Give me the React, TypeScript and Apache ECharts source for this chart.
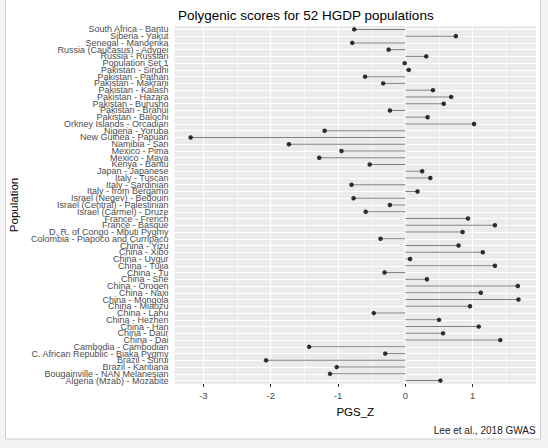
import React, { useEffect, useRef } from 'react';
import * as echarts from 'echarts';

const populations = [
  'South Africa - Bantu',
  'Siberia - Yakut',
  'Senegal - Mandenka',
  'Russia (Caucasus) - Adygei',
  'Russia - Russian',
  'Population Set 1',
  'Pakistan - Sindhi',
  'Pakistan - Pathan',
  'Pakistan - Makrani',
  'Pakistan - Kalash',
  'Pakistan - Hazara',
  'Pakistan - Burusho',
  'Pakistan - Brahui',
  'Pakistan - Balochi',
  'Orkney Islands - Orcadian',
  'Nigeria - Yoruba',
  'New Guinea - Papuan',
  'Namibia - San',
  'Mexico - Pima',
  'Mexico - Maya',
  'Kenya - Bantu',
  'Japan - Japanese',
  'Italy - Tuscan',
  'Italy - Sardinian',
  'Italy - from Bergamo',
  'Israel (Negev) - Bedouin',
  'Israel (Central) - Palestinian',
  'Israel (Carmel) - Druze',
  'France - French',
  'France - Basque',
  'D. R. of Congo - Mbuti Pygmy',
  'Colombia - Piapoco and Curripaco',
  'China - Yizu',
  'China - Xibo',
  'China - Uygur',
  'China - Tujia',
  'China - Tu',
  'China - She',
  'China - Oroqen',
  'China - Naxi',
  'China - Mongola',
  'China - Miaozu',
  'China - Lahu',
  'China - Hezhen',
  'China - Han',
  'China - Daur',
  'China - Dai',
  'Cambodia - Cambodian',
  'C. African Republic - Biaka Pygmy',
  'Brazil - Surui',
  'Brazil - Karitiana',
  'Bougainville - NAN Melanesian',
  'Algeria (Mzab) - Mozabite',
];

const pgsZ = [
  -0.76, 0.75, -0.79, -0.25, 0.31, -0.01, 0.05, -0.6, -0.33, 0.41,
  0.68, 0.57, -0.23, 0.33, 1.02, -1.2, -3.19, -1.73, -0.95, -1.28,
  -0.53, 0.25, 0.37, -0.8, 0.18, -0.77, -0.23, -0.59, 0.93, 1.33,
  0.85, -0.37, 0.79, 1.15, 0.07, 1.33, -0.31, 0.32, 1.67, 1.12,
  1.68, 0.96, -0.47, 0.5, 1.09, 0.56, 1.41, -1.43, -0.3, -2.07,
  -1.02, -1.12, 0.52,
];

const majorBreaks = [-3, -2, -1, 0, 1];
const minorBreaks = [-2.5, -1.5, -0.5, 0.5, 1.5];
const xMin = -3.43;
const xMax = 1.94;

export default function App() {
  const ref = useRef<HTMLDivElement>(null);
  useEffect(() => {
    const chart = echarts.init(ref.current!, null, { renderer: 'svg' });
    const font = '"Liberation Sans", Arial, Helvetica, sans-serif';
    const gridLines: any[] = [
      ...minorBreaks.map((v) => ({ xAxis: v, lineStyle: { color: '#ffffff', width: 0.55, type: 'solid' } })),
      ...majorBreaks.map((v) => ({ xAxis: v, lineStyle: { color: '#ffffff', width: 1.1, type: 'solid' } })),
      ...populations.map((p) => ({ yAxis: p, lineStyle: { color: '#ffffff', width: 1.1, type: 'solid' } })),
    ];
    chart.setOption({
      animation: false,
      backgroundColor: '#f4f4f4',
      textStyle: { fontFamily: font },
      title: {
        text: 'Polygenic scores for 52 HGDP populations',
        left: 173,
        top: 3,
        textStyle: { fontSize: 13.5, fontWeight: 'normal', color: '#000', fontFamily: font },
      },
      graphic: [
        {
          type: 'rect',
          z: -10,
          shape: { x: 5.5, y: -1, width: 535, height: 440 },
          style: { fill: '#ffffff', stroke: '#cfcfcf', lineWidth: 1 },
          silent: true,
        },
        {
          type: 'text',
          x: 535.7,
          y: 430,
          style: {
            text: 'Lee et al., 2018 GWAS',
            textAlign: 'right',
            textVerticalAlign: 'middle',
            fontSize: 10,
            fill: '#1a1a1a',
            fontFamily: font,
          },
        },
      ],
      grid: {
        show: true,
        backgroundColor: '#ebebeb',
        borderWidth: 0,
        left: 173,
        right: 12,
        top: 26,
        bottom: 64,
        containLabel: false,
      },
      xAxis: {
        type: 'value',
        min: xMin,
        max: xMax,
        name: 'PGS_Z',
        nameLocation: 'middle',
        nameGap: 22,
        nameTextStyle: { fontSize: 11.5, color: '#000', fontFamily: font },
        axisLine: { show: false },
        axisTick: { show: true, length: 3, lineStyle: { color: '#333' }, customValues: majorBreaks },
        axisLabel: {
          color: '#4d4d4d',
          fontSize: 9.5,
          margin: 6,
          fontFamily: font,
          customValues: majorBreaks,
          formatter: (v: number) => (majorBreaks.includes(v) ? String(v) : ''),
        },
        splitLine: { show: false },
      },
      yAxis: {
        type: 'category',
        data: populations,
        inverse: true,
        name: 'Population',
        nameLocation: 'middle',
        nameRotate: 90,
        nameGap: 145,
        nameTextStyle: { fontSize: 11.5, color: '#000', fontFamily: font },
        axisLine: { show: false },
        axisTick: { show: true, alignWithLabel: true, interval: 0, length: 3, lineStyle: { color: '#333' } },
        axisLabel: { interval: 0, fontSize: 9, color: '#4d4d4d', margin: 6, fontFamily: font },
        splitLine: { show: false },
      },
      series: [
        {
          type: 'bar',
          data: pgsZ,
          barWidth: 1,
          itemStyle: { color: '#808080' },
          silent: true,
          z: 2,
          markLine: {
            silent: true,
            z: 1,
            symbol: 'none',
            label: { show: false },
            emphasis: { disabled: true },
            animation: false,
            data: gridLines,
          },
        },
        {
          type: 'scatter',
          data: pgsZ.map((v, i) => [v, i]),
          symbolSize: 4.5,
          itemStyle: { color: '#000' },
          silent: true,
          z: 3,
        },
      ],
    });
    return () => chart.dispose();
  }, []);
  return <div ref={ref} style={{ position: 'fixed', left: 0, top: 0, width: 548, height: 448 }} />;
}
